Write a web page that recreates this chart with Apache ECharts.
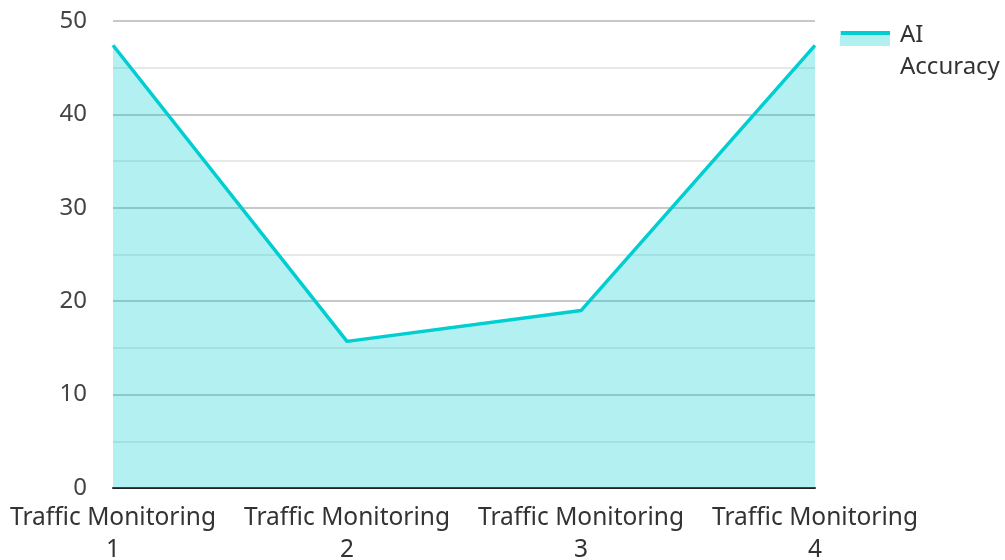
<!DOCTYPE html>
<html>
<head>
<meta charset="utf-8">
<script src="https://cdn.jsdelivr.net/npm/echarts@6/dist/echarts.min.js"></script>
<style>
html,body{margin:0;padding:0;background:#fff;}
#chart{width:1005px;height:560px;}
</style>
</head>
<body>
<div id="chart"></div>
<script>
var categories = ['Traffic Monitoring\n1', 'Traffic Monitoring\n2', 'Traffic Monitoring\n3', 'Traffic Monitoring\n4'];
var accuracy = [47.4, 15.7, 19.0, 47.4];
var seriesName = 'AI\nAccuracy';
var yTicks = {min: 0, max: 50, interval: 10};

var iconSvg = '<svg xmlns="http://www.w3.org/2000/svg" width="50" height="64" viewBox="0 0 50 64">' +
  '<rect x="0" y="12" width="50" height="15" fill="rgb(178,239,239)"/>' +
  '<rect x="1" y="12" width="49" height="4" fill="#00CED1"/></svg>';
var iconUri = 'image://data:image/svg+xml;charset=utf-8,' + encodeURIComponent(iconSvg);

var chart = echarts.init(document.getElementById('chart'), null, {renderer: 'canvas'});
chart.setOption({
  animation: false,
  textStyle: {fontFamily: 'Noto Sans'},
  grid: {left: 113, right: 190, top: 21, bottom: 72, containLabel: false, outerBoundsMode: 'none'},
  legend: {
    data: [{name: seriesName, icon: iconUri}],
    left: 840, top: 19,
    orient: 'vertical',
    padding: 0,
    itemWidth: 50, itemHeight: 64, itemGap: 10,
    textStyle: {fontSize: 24, color: '#333', lineHeight: 32, fontFamily: 'Noto Sans', padding: [0, 0, 0, 5]}
  },
  xAxis: {
    type: 'category',
    data: categories,
    boundaryGap: false,
    axisLine: {show: true, lineStyle: {color: '#222', width: 2}},
    axisTick: {show: false},
    axisLabel: {fontSize: 24.5, color: '#333', lineHeight: 32, margin: 14, interval: 0, fontFamily: 'Noto Sans'},
    splitLine: {show: false}
  },
  yAxis: {
    type: 'value',
    min: yTicks.min, max: yTicks.max, interval: yTicks.interval,
    axisLine: {show: false},
    axisTick: {show: false},
    axisLabel: {fontSize: 24, color: '#444', margin: 26, fontFamily: 'Noto Sans'},
    splitLine: {show: true, lineStyle: {color: '#c8c8c8', width: 2}},
    minorTick: {show: false, splitNumber: 2},
    minorSplitLine: {show: true, lineStyle: {color: '#e8e8e8', width: 2}}
  },
  series: [{
    name: seriesName,
    type: 'line',
    data: accuracy,
    symbol: 'none',
    lineStyle: {color: '#00CED1', width: 3.5},
    itemStyle: {color: '#00CED1'},
    areaStyle: {color: 'rgba(0,206,209,0.3)', opacity: 1}
  }]
});
</script>
</body>
</html>
